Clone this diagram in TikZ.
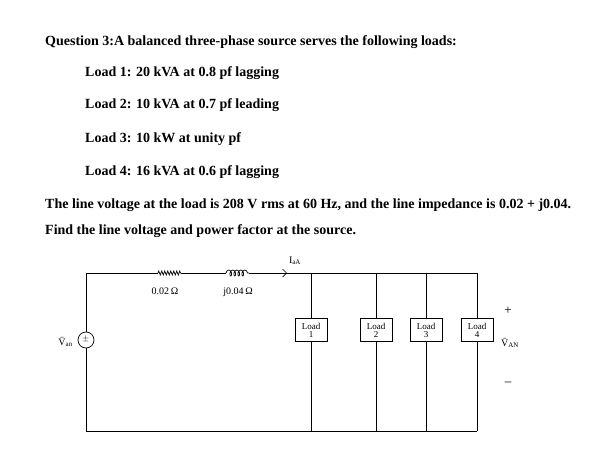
\documentclass[tikz,border=0pt]{standalone}
\usepackage{fontspec}
\setmainfont{Liberation Serif}
\newfontfamily\handfont{DejaVu Sans}
\usetikzlibrary{decorations.pathmorphing,arrows.meta}
\begin{document}
\begin{tikzpicture}[x=1pt,y=-1pt,
  q/.style={anchor=west,font=\bfseries\fontsize{14}{16}\selectfont,inner sep=0},
  wire/.style={line width=0.7pt},
  load/.style={draw,line width=0.7pt,minimum width=32,minimum height=23,inner sep=1,font=\fontsize{9}{8}\selectfont,align=center},
  hand/.style={font=\fontsize{10}{11}\selectfont,inner sep=1}]
\useasboundingbox (0,0) rectangle (605,467);
\node[q] (t1) at (45,42) {Question 3:A balanced three-phase source serves the following loads:};
\node[q] (t2) at (85,73) {Load 1: 20 kVA at 0.8 pf lagging};
\node[q] (t3) at (85,105) {Load 2: 10 kVA at 0.7 pf leading};
\node[q] (t4) at (85,139) {Load 3: 10 kW at unity pf};
\node[q] (t5) at (85,172) {Load 4: 16 kVA at 0.6 pf lagging};
\node[q] (t6) at (45,205) {The line voltage at the load is 208 V rms at 60 Hz, and the line impedance is 0.02 + j0.04.};
\node[q] (t7) at (45,231) {Find the line voltage and power factor at the source.};
% circuit
\coordinate (tl) at (86,273);
\coordinate (bl) at (86,431);
\node[draw,circle,minimum size=16,inner sep=0,line width=0.7pt,font=\fontsize{8}{8}\selectfont,align=center] (src) at (86,340) {$+$\\[-5pt]$-$};
\node[hand,anchor=east] (van) at (74,342) {V̄\textsubscript{an}};
\coordinate (r1) at (158,273); \coordinate (r2) at (181,273);
\coordinate (l1) at (226,273); \coordinate (l2) at (249,273);
\coordinate (tr) at (477,273); \coordinate (br) at (477,431);
\node[load] (L1) at (311,330) {Load\\1};
\node[load] (L2) at (376,330) {Load\\2};
\node[load] (L3) at (426,330) {Load\\3};
\node[load] (L4) at (477,330) {Load\\4};
\draw[wire] (src.north) -- (tl) -- (r1);
\draw[wire,decorate,decoration={zigzag,segment length=3pt,amplitude=2pt}] (r1) -- (r2);
\draw[wire] (r2) -- (l1);
\draw[wire,decorate,decoration={coil,aspect=0.6,segment length=4pt,amplitude=3pt}] (l1) -- (l2);
\draw[wire] (l2) -- (tr);
\draw[wire] (src.south) -- (bl) -- (br);
\foreach \n in {L1,L2,L3,L4}{
  \draw[wire] (\n.north) -- (\n.north |- tl);
  \draw[wire] (\n.south) -- (\n.south |- bl);
}
\draw[-{Straight Barb[length=4pt,width=8pt]},line width=0.7pt] (270,273) -- (287,273);
\node[hand] (ia) at (295,261) {I\textsubscript{aA}};
\node[hand] (rl) at (165,291) {0.02\,Ω};
\node[hand] (xl) at (238,292) {j0.04\,Ω};
\node[hand,font=\fontsize{13}{13}\selectfont] (pl) at (508,311) {+};
\node[hand,anchor=west] (vAN) at (500,343) {V̄\textsubscript{AN}};
\node[hand,font=\fontsize{13}{13}\selectfont] (mi) at (508,384) {–};
\end{tikzpicture}
\end{document}
